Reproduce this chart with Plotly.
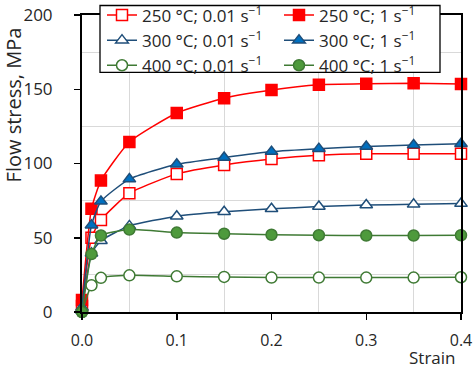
import plotly.graph_objects as go

strain = [0.0, 0.01, 0.02, 0.05, 0.1, 0.15, 0.2, 0.25, 0.3, 0.35, 0.4]

s250_001 = [4, 50, 62, 80, 93, 99, 103, 105.5, 106.5, 106.5, 106.5]
s250_1 = [8, 69.5, 88.5, 114.5, 134, 144, 149.5, 153, 153.7, 154, 153.5]
s300_001 = [1, 39.5, 48, 58, 64.5, 67.5, 69.5, 71, 72, 72.5, 73]
s300_1 = [3, 58.5, 74.5, 89.5, 99.5, 104, 108, 110, 111.5, 112.5, 113.3]
s400_001 = [0, 18, 23, 24.7, 24, 23.6, 23.2, 23.2, 23.2, 23.2, 23.4]
s400_1 = [0, 39, 51.5, 55.5, 53.5, 52.7, 52, 51.7, 51.5, 51.5, 51.7]

labels = ["250 °C; 0.01 s<sup>−1</sup>", "250 °C; 1 s<sup>−1</sup>",
          "300 °C; 0.01 s<sup>−1</sup>", "300 °C; 1 s<sup>−1</sup>",
          "400 °C; 0.01 s<sup>−1</sup>", "400 °C; 1 s<sup>−1</sup>"]

RED = "#FF0000"
BLUE_LINE = "#1F4E79"
BLUE_FILL = "#0070C0"
GREEN_LINE = "#3F7A34"
GREEN_FILL = "#4E9A3C"

series = [
    (s250_001, labels[0], RED, "square", "white", RED, "legend"),
    (s250_1, labels[1], RED, "square", RED, RED, "legend2"),
    (s300_001, labels[2], BLUE_LINE, "triangle-up", "white", BLUE_LINE, "legend"),
    (s300_1, labels[3], BLUE_LINE, "triangle-up", BLUE_FILL, BLUE_LINE, "legend2"),
    (s400_001, labels[4], GREEN_LINE, "circle", "white", GREEN_LINE, "legend"),
    (s400_1, labels[5], GREEN_LINE, "circle", GREEN_FILL, GREEN_LINE, "legend2"),
]

fig = go.Figure()
for vals, name, lc, sym, fill, mline, lg in series:
    fig.add_trace(go.Scatter(
        x=strain, y=vals, name=name, mode="lines+markers", legend=lg,
        line=dict(color=lc, width=1.5, shape="spline", smoothing=0.5),
        marker=dict(symbol=sym, size=11, color=fill, line=dict(color=mline, width=1.5)),
        cliponaxis=False,
    ))

# figure geometry in px (page body margin removed below)
W, H = 474, 373
L, T = 82, 14.5
PW, PH = 379, 297.2
R = W - L - PW
B = H - T - PH


def px_x(v):
    return (v - L) / PW


def px_y(v):
    return (T + PH - v) / PH


legend_common = dict(
    orientation="v", xanchor="left", yanchor="top",
    bgcolor="rgba(0,0,0,0)", borderwidth=0,
    font=dict(size=17), itemwidth=30, tracegroupgap=0,
)

font_family = "Open Sans, Noto Sans, sans-serif"
fig.update_layout(
    width=W, height=H,
    margin=dict(l=L, r=R, t=T, b=B, autoexpand=False, pad=0),
    paper_bgcolor="white", plot_bgcolor="white",
    font=dict(family=font_family, size=16, color="#262626"),
    showlegend=True,
    hovermode=False,
    legend=dict(x=px_x(102), y=px_y(-3), **legend_common),
    legend2=dict(x=px_x(279), y=px_y(-3), **legend_common),
    xaxis=dict(
        range=[0, 0.4], dtick=0.1, tickformat=".1f",
        showgrid=False, showline=True, linecolor="black", linewidth=2,
        mirror=True, ticks="outside", ticklen=6, tickwidth=1.5, tickcolor="black",
        zeroline=False, tickfont=dict(size=16), ticklabelstandoff=7,
        minor=dict(dtick=0.05, showgrid=True, gridcolor="#D9D9D9", gridwidth=1),
    ),
    yaxis=dict(
        range=[0, 200], dtick=50,
        showgrid=False, showline=True, linecolor="black", linewidth=2,
        mirror=True, ticks="outside", ticklen=6, tickwidth=1.5, tickcolor="black",
        zeroline=False, tickfont=dict(size=17), ticklabelstandoff=18,
        minor=dict(dtick=25, showgrid=True, gridcolor="#D9D9D9", gridwidth=1),
    ),
    shapes=[
        dict(type="rect", xref="paper", yref="paper",
             x0=px_x(100), x1=px_x(440), y0=px_y(72), y1=px_y(5),
             fillcolor="white", line=dict(color="black", width=1.3), layer="above"),
    ],
    annotations=[
        dict(text="Strain", x=1.0, y=0, xref="paper", yref="paper",
             xanchor="right", yanchor="middle", yshift=-45, xshift=-3,
             showarrow=False, font=dict(size=17)),
        dict(text="Flow stress, MPa", x=0, y=0.6955, xref="paper", yref="paper",
             xanchor="center", yanchor="middle", xshift=-69, textangle=-90,
             showarrow=False, font=dict(size=20)),
    ],
)

fig.write_html("out.html", config={"displayModeBar": False, "staticPlot": True},
               post_script="document.body.style.margin='0px';")
